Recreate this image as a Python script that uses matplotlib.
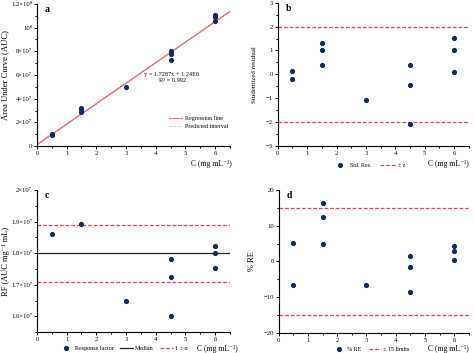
import matplotlib
matplotlib.use("Agg")
import matplotlib.pyplot as plt
from matplotlib.ticker import FixedLocator, MultipleLocator
import numpy as np

plt.rcParams['font.family'] = ['Liberation Serif', 'DejaVu Serif']
plt.rcParams['mathtext.fontset'] = 'stix'

# ---- data ----
conc_a = [0.5, 0.5, 1.5, 1.5, 1.5, 3, 4.5, 4.5, 4.5, 6, 6, 6]
auc = [1.0e7, 0.93e7, 3.18e7, 3.04e7, 2.85e7, 4.96e7, 8.06e7, 7.8e7, 7.27e7, 1.104e8, 1.087e8, 1.056e8]
slope = 1.7287e7
intercept = 1.24e6
pi_half = 0.4e6

conc_b = [0.5, 0.5, 1.5, 1.5, 1.5, 3, 4.5, 4.5, 4.5, 6, 6, 6]
std_res = [0.14, -0.21, 1.33, 1.01, 0.39, -1.07, 0.39, -0.43, -2.1, 1.51, 1.04, 0.11]
res_limit = 2.0

conc_c = [0.5, 1.5, 3, 4.5, 4.5, 4.5, 6, 6, 6]
rf = [1.860e7, 1.891e7, 1.65e7, 1.78e7, 1.724e7, 1.602e7, 1.822e7, 1.799e7, 1.752e7]
rf_median = 1.799e7
rf_upper = 1.8885e7
rf_lower = 1.709e7

conc_d = [0.5, 0.5, 1.5, 1.5, 1.5, 3, 4.5, 4.5, 4.5, 6, 6, 6]
re = [5.1, -6.5, 16.4, 12.5, 4.8, -6.6, 1.6, -1.7, -8.5, 4.4, 3.0, 0.3]
re_limit = 15

a_yticks = [0, 2e7, 4e7, 6e7, 8e7, 1e8, 1.2e8]
a_ylabels = ['0', '2×10⁷', '4×10⁷', '6×10⁷', '8×10⁷', '10⁸', '1.2×10⁸']
c_yticks = [1.6e7, 1.7e7, 1.8e7, 1.9e7, 2.0e7]
c_ylabels = ['1.6×10⁷', '1.7×10⁷', '1.8×10⁷', '1.9×10⁷', '2×10⁷']

navy = '#0f2b5b'
red = '#e2455e'
salmon = '#e8806a'
fs_tick = 4.8
fs_lab = 5.5
fs_leg = 4.3
ms = 2.7
xlabel_text = 'C (mg mL⁻¹)'

fig = plt.figure(figsize=(4.74, 3.53), dpi=100)

def style(ax):
    for s in ['top', 'right']:
        ax.spines[s].set_visible(False)
    for s in ['left', 'bottom']:
        ax.spines[s].set_linewidth(0.8)
    ax.tick_params(which='both', direction='out', labelsize=fs_tick, width=0.7, pad=1.0)
    ax.tick_params(which='major', length=2.5)
    ax.tick_params(which='minor', length=1.5)
    ax.set_xlim(0, 6.5)
    ax.xaxis.set_major_locator(MultipleLocator(1))
    ax.xaxis.set_minor_locator(MultipleLocator(0.5))

def xlab(ax, x, y):
    ax.text(x, y, xlabel_text, transform=ax.transAxes, ha='right', va='center', fontsize=fs_lab)

def letter(ax, s):
    ax.text(0.04, 0.995, s, transform=ax.transAxes, fontsize=7, fontweight='bold', va='top')

# panel a
axa = fig.add_axes([0.078, 0.586, 0.407, 0.403])
style(axa)
xs = np.array([0, 6.5])
axa.plot(xs, slope * xs + intercept, color=salmon, lw=0.9, label='Regression line', zorder=2)
axa.plot(xs, slope * xs + intercept + pi_half, color='#d0508a', lw=0.5, ls=':', label='Predicted interval', zorder=2)
axa.plot(xs, slope * xs + intercept - pi_half, color='#d0508a', lw=0.5, ls=':', zorder=2)
axa.plot(conc_a, auc, 'o', color=navy, ms=ms, zorder=3)
axa.set_ylim(0, 1.2e8)
axa.yaxis.set_major_locator(FixedLocator(a_yticks))
axa.set_yticklabels(a_ylabels)
axa.yaxis.set_minor_locator(MultipleLocator(1e7))
axa.set_ylabel('Area Under Curve (AUC)', fontsize=6.2, labelpad=1)
axa.text(0.70, 0.52, 'y = 1.7287x + 1.24E6\nR² = 0.992', transform=axa.transAxes, fontsize=4.5, ha='center', va='top', linespacing=1.15)
axa.legend(loc='center left', bbox_to_anchor=(0.67, 0.165), fontsize=fs_leg, frameon=False, handlelength=2.2,
           handletextpad=0.5, labelspacing=0.4, borderpad=0)
xlab(axa, 1.01, -0.125)
letter(axa, 'a')

# panel b
axb = fig.add_axes([0.586, 0.587, 0.403, 0.405])
style(axb)
axb.axhline(res_limit, color=red, ls='--', lw=0.9, dashes=(3, 1.5), label='± z', zorder=1)
axb.axhline(-res_limit, color=red, ls='--', lw=0.9, dashes=(3, 1.5), zorder=1)
axb.plot(conc_b, std_res, 'o', color=navy, ms=ms, ls='none', label='Std. Res.', zorder=3)
axb.set_ylim(-3, 3)
axb.yaxis.set_major_locator(MultipleLocator(1))
axb.yaxis.set_minor_locator(MultipleLocator(0.5))
axb.set_ylabel('Studentized residual', fontsize=5.0, labelpad=6)
h, l = axb.get_legend_handles_labels()
axb.legend([h[1], h[0]], [l[1], l[0]], loc='center left', bbox_to_anchor=(0.27, -0.135), ncol=2, fontsize=fs_leg,
           frameon=False, handlelength=2.6, handletextpad=0.4, columnspacing=1.4, borderpad=0)
xlab(axb, 1.0, -0.125)
letter(axb, 'b')

# panel c
axc = fig.add_axes([0.078, 0.059, 0.407, 0.403])
style(axc)
axc.plot(conc_c, rf, 'o', color=navy, ms=ms, ls='none', label='Response factor', zorder=3)
axc.axhline(rf_median, color='#222222', lw=0.9, label='Median', zorder=1)
axc.axhline(rf_upper, color=red, ls='--', lw=0.9, dashes=(3, 1.5), label='1 ± α', zorder=1)
axc.axhline(rf_lower, color=red, ls='--', lw=0.9, dashes=(3, 1.5), zorder=1)
axc.set_ylim(1.55e7, 2.0e7)
axc.yaxis.set_major_locator(FixedLocator(c_yticks))
axc.set_yticklabels(c_ylabels)
axc.yaxis.set_minor_locator(MultipleLocator(0.5e6))
axc.set_ylabel('RF (AUC mg⁻¹ mL)', fontsize=6.0, labelpad=1)
axc.legend(loc='center left', bbox_to_anchor=(0.10, -0.115), ncol=3, fontsize=fs_leg, frameon=False,
           handlelength=2.2, handletextpad=0.4, columnspacing=1.0, borderpad=0)
xlab(axc, 1.04, -0.115)
letter(axc, 'c')

# panel d
axd = fig.add_axes([0.588, 0.057, 0.401, 0.405])
style(axd)
axd.plot(conc_d, re, 'o', color=navy, ms=ms, ls='none', label='% RE', zorder=3)
axd.axhline(re_limit, color=red, ls='--', lw=0.9, dashes=(3, 1.5), label='± 15 limits', zorder=1)
axd.axhline(-re_limit, color=red, ls='--', lw=0.9, dashes=(3, 1.5), zorder=1)
axd.set_ylim(-20, 20)
axd.yaxis.set_major_locator(MultipleLocator(10))
axd.yaxis.set_minor_locator(MultipleLocator(5))
axd.set_ylabel('% RE', fontsize=6.0, labelpad=5)
axd.legend(loc='center left', bbox_to_anchor=(0.27, -0.115), ncol=2, fontsize=fs_leg, frameon=False,
           handlelength=2.0, handletextpad=0.4, columnspacing=1.2, borderpad=0)
xlab(axd, 1.0, -0.115)
letter(axd, 'd')

fig.savefig('out.png', dpi=100)
